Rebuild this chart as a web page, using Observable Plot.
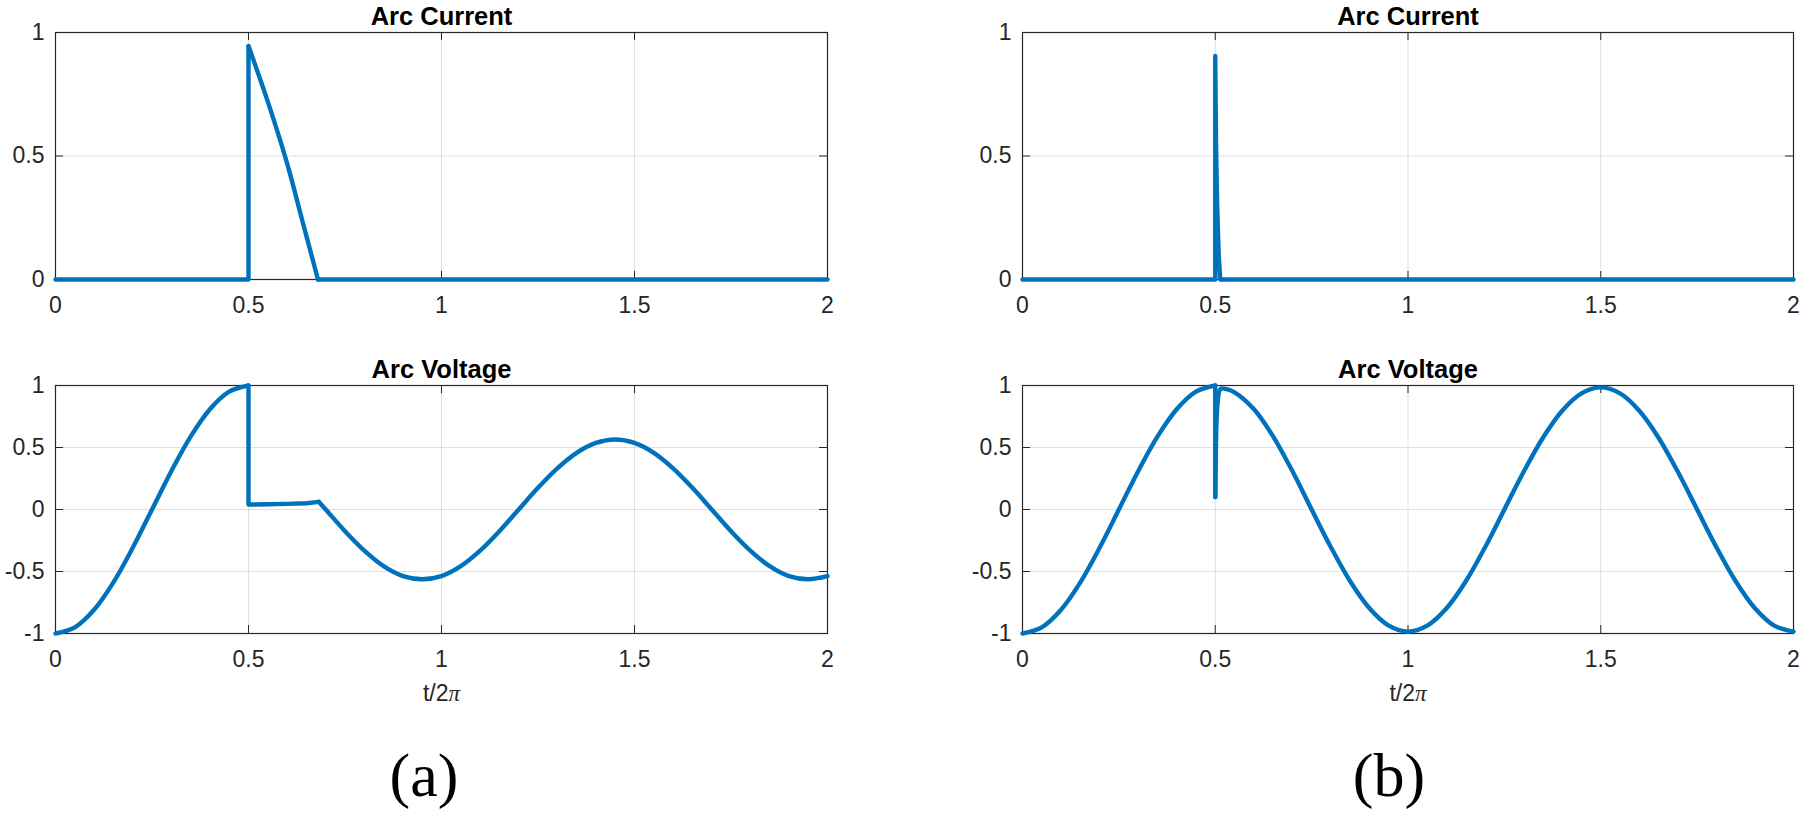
<!DOCTYPE html>
<html>
<head>
<meta charset="utf-8">
<script src="https://cdn.jsdelivr.net/npm/d3@7"></script>
<script src="https://cdn.jsdelivr.net/npm/@observablehq/plot@0.6"></script>
<style>
  html, body { margin: 0; padding: 0; background: #fff; }
  #root { position: relative; width: 1804px; height: 815px; overflow: hidden; }
  #root > svg { position: absolute; }
</style>
</head>
<body>
<div id="root"></div>
<script>
// ---------- texts & ticks ----------
const titles = ["Arc Current", "Arc Voltage"];
const xAxisLabel = "t/2π";
const panelCaptions = ["(a)", "(b)"];

const xTickValues = [0, 0.5, 1, 1.5, 2];
const xTickLabels = ["0", "0.5", "1", "1.5", "2"];
const currentTickValues = [0, 0.5, 1];
const currentTickLabels = ["0", "0.5", "1"];
const voltageTickValues = [-1, -0.5, 0, 0.5, 1];
const voltageTickLabels = ["-1", "-0.5", "0", "0.5", "1"];

// ---------- (a) arc current ----------
const currentA_off_t = [0, 0.5, 0.5];
const currentA_off_v = [0, 0, 0.945];
const currentA_decay_t = [0.5, 0.55, 0.6, 0.64, 0.68];
const currentA_decay_v = [0.945, 0.72, 0.47, 0.235, 0];
const currentA_zero_t = [0.68, 2];
const currentA_zero_v = [0, 0];

// ---------- (a) arc voltage ----------
const voltageA_rise_t = [0, 0.05, 0.1, 0.15, 0.2, 0.25, 0.3, 0.35, 0.4, 0.45, 0.5];
const voltageA_rise_v = [-1, -0.951, -0.809, -0.588, -0.309, 0, 0.309, 0.588, 0.809, 0.951, 1];
const voltageA_arc_t = [0.5, 0.5, 0.55, 0.6, 0.65, 0.682];
const voltageA_arc_v = [1, 0.04, 0.042, 0.045, 0.05, 0.062];
const voltageA_after_t = [0.682, 0.7, 0.75, 0.8, 0.85, 0.9, 0.95, 1, 1.05, 1.1, 1.15, 1.2, 1.25, 1.3, 1.35, 1.4, 1.45, 1.5, 1.55, 1.6, 1.65, 1.7, 1.75, 1.8, 1.85, 1.9, 1.95, 2];
const voltageA_after_v = [0.062, 0, -0.175, -0.332, -0.457, -0.537, -0.562, -0.537, -0.457, -0.332, -0.175, 0, 0.175, 0.332, 0.457, 0.537, 0.565, 0.537, 0.457, 0.332, 0.175, 0, -0.175, -0.332, -0.457, -0.537, -0.562, -0.537];

// ---------- (b) arc current ----------
const currentB_t = [0, 0.5, 0.5, 0.502, 0.505, 0.509, 0.513, 2];
const currentB_v = [0, 0, 0.905, 0.55, 0.3, 0.1, 0, 0];

// ---------- (b) arc voltage ----------
const voltageB_rise_t = [0, 0.05, 0.1, 0.15, 0.2, 0.25, 0.3, 0.35, 0.4, 0.45, 0.5];
const voltageB_rise_v = [-1, -0.951, -0.809, -0.588, -0.309, 0, 0.309, 0.588, 0.809, 0.951, 1];
const voltageB_drop_t = [0.5, 0.5];
const voltageB_drop_v = [1, 0.1];
const voltageB_after_t = [0.5, 0.5015, 0.503, 0.506, 0.51, 0.515, 0.53, 0.55, 0.6, 0.65, 0.7, 0.75, 0.8, 0.85, 0.9, 0.95, 1, 1.05, 1.1, 1.15, 1.2, 1.25, 1.3, 1.35, 1.4, 1.45, 1.5, 1.55, 1.6, 1.65, 1.7, 1.75, 1.8, 1.85, 1.9, 1.95, 2];
const voltageB_after_v = [0.1, 0.45, 0.68, 0.86, 0.95, 0.975, 0.97, 0.945, 0.81, 0.59, 0.31, 0, -0.304, -0.579, -0.797, -0.937, -0.985, -0.937, -0.797, -0.579, -0.304, 0, 0.304, 0.579, 0.797, 0.937, 0.985, 0.937, 0.797, 0.579, 0.304, 0, -0.304, -0.579, -0.797, -0.937, -0.985];

// ---------- helpers ----------
const rows = (ts, vs, seg) => ts.map((t, i) => ({t, v: vs[i], seg}));
const BLUE = "#0072BD";
const AXIS = "#262626";
const TICK_LEN = 8;

function panel({left, top, width, height, mL, mR, mT, mB, yDomain, yTicks, yLabels,
                title, linear, smooth, xlabel, caption, captionDx}) {
  const innerW = width - mL - mR;
  const innerH = height - mT - mB;
  const lineStyle = {x: "t", y: "v", z: "seg", stroke: BLUE, strokeWidth: 4.4,
                     strokeLinejoin: "round", strokeLinecap: "round"};
  const marks = [
    Plot.ruleX(xTickValues.slice(1, -1), {x: d => d, stroke: "#000", strokeOpacity: 0.12}),
    Plot.ruleY(yTicks.slice(1, -1), {y: d => d, stroke: "#000", strokeOpacity: 0.12}),
    Plot.frame({stroke: AXIS, strokeWidth: 1.2}),
    Plot.tickX(xTickValues, {x: d => d, insetTop: innerH - TICK_LEN, stroke: AXIS}),
    Plot.tickX(xTickValues, {x: d => d, insetBottom: innerH - TICK_LEN, stroke: AXIS}),
    Plot.tickY(yTicks, {y: d => d, insetRight: innerW - TICK_LEN, stroke: AXIS}),
    Plot.tickY(yTicks, {y: d => d, insetLeft: innerW - TICK_LEN, stroke: AXIS}),
    Plot.line(linear, {...lineStyle}),
    Plot.line(smooth, {...lineStyle, curve: "catmull-rom"}),
    Plot.text([title], {text: d => d, frameAnchor: "top", dy: -7.7, lineAnchor: "bottom",
                        fontWeight: "bold", fontSize: 25.5, fill: "#000"})
  ];
  if (xlabel) {
    marks.push(Plot.text([xlabel], {text: d => d, frameAnchor: "bottom", dy: 67,
                                    lineAnchor: "bottom", fontSize: 23, fill: AXIS}));
  }
  if (caption) {
    marks.push(Plot.text([caption], {text: d => d, frameAnchor: "bottom", dx: captionDx, dy: 162,
                                     lineAnchor: "bottom", fontSize: 62, fill: "#000",
                                     fontFamily: "'Liberation Serif', 'Times New Roman', serif"}));
  }
  const svg = Plot.plot({
    width, height,
    marginLeft: mL, marginRight: mR, marginTop: mT, marginBottom: mB,
    style: {fontFamily: "'Liberation Sans', Arial, sans-serif", fontSize: "23px",
            color: AXIS, background: "transparent", overflow: "visible"},
    x: {domain: [0, 2], ticks: xTickValues, tickSize: 0, tickPadding: 17, label: null,
        tickFormat: d => xTickLabels[xTickValues.indexOf(d)]},
    y: {domain: yDomain, ticks: yTicks, tickSize: 0, tickPadding: 11, label: null,
        tickFormat: d => yLabels[yTicks.indexOf(d)]},
    marks
  });
  svg.style.left = left + "px";
  svg.style.top = top + "px";
  // italic serif pi in the x label
  d3.select(svg).selectAll("text").filter(function () { return this.textContent === xAxisLabel; })
    .each(function () {
      const t = d3.select(this);
      t.text(null);
      t.append("tspan").text("t/2");
      t.append("tspan").attr("font-family", "'Liberation Serif', serif").attr("font-style", "italic").text("π");
    });
  document.getElementById("root").appendChild(svg);
}

// (a) current
panel({left: 0, top: 0, width: 860, height: 330, mL: 55, mR: 33, mT: 32, mB: 51,
       yDomain: [0, 1], yTicks: currentTickValues, yLabels: currentTickLabels, title: titles[0],
       linear: [...rows(currentA_off_t, currentA_off_v, "off"), ...rows(currentA_zero_t, currentA_zero_v, "zero")],
       smooth: rows(currentA_decay_t, currentA_decay_v, "decay")});
// (a) voltage
panel({left: 0, top: 340, width: 860, height: 475, mL: 55, mR: 33, mT: 45, mB: 182,
       yDomain: [-1, 1], yTicks: voltageTickValues, yLabels: voltageTickLabels, title: titles[1],
       linear: rows(voltageA_arc_t, voltageA_arc_v, "arc"),
       smooth: [...rows(voltageA_rise_t, voltageA_rise_v, "rise"), ...rows(voltageA_after_t, voltageA_after_v, "after")],
       xlabel: xAxisLabel, caption: panelCaptions[0], captionDx: -17.5});
// (b) current
panel({left: 967, top: 0, width: 837, height: 330, mL: 55, mR: 11, mT: 32, mB: 51,
       yDomain: [0, 1], yTicks: currentTickValues, yLabels: currentTickLabels, title: titles[0],
       linear: rows(currentB_t, currentB_v, "c"), smooth: []});
// (b) voltage
panel({left: 967, top: 340, width: 837, height: 475, mL: 55, mR: 11, mT: 45, mB: 182,
       yDomain: [-1, 1], yTicks: voltageTickValues, yLabels: voltageTickLabels, title: titles[1],
       linear: rows(voltageB_drop_t, voltageB_drop_v, "drop"),
       smooth: [...rows(voltageB_rise_t, voltageB_rise_v, "rise"), ...rows(voltageB_after_t, voltageB_after_v, "after")],
       xlabel: xAxisLabel, caption: panelCaptions[1], captionDx: -19});
</script>
</body>
</html>
